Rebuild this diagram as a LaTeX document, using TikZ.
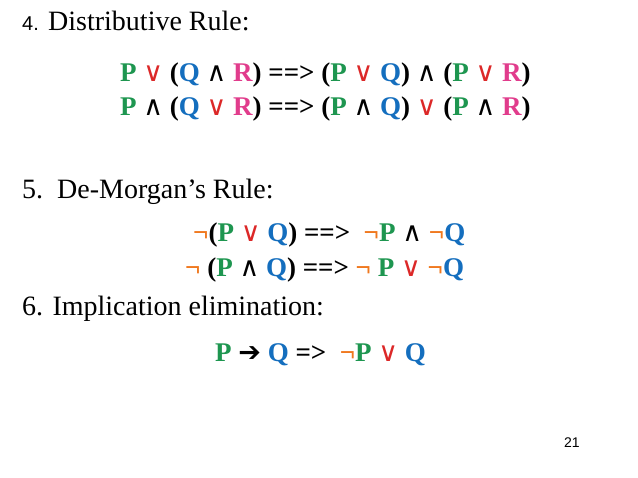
\documentclass[tikz,border=0pt]{standalone}
\usepackage{fontspec}
\setmainfont{Liberation Serif}
\newfontfamily\symf{DejaVu Sans}
\newfontfamily\arialf{Liberation Sans}
\definecolor{pg}{RGB}{30,150,80}
\definecolor{qb}{RGB}{20,110,190}
\definecolor{rm}{RGB}{225,60,140}
\definecolor{or}{RGB}{220,40,40}
\definecolor{ng}{RGB}{240,120,30}
\newcommand{\Pp}{\textcolor{pg}{P}}
\newcommand{\Qq}{\textcolor{qb}{Q}}
\newcommand{\Rr}{\textcolor{rm}{R}}
\newcommand{\OR}{\textcolor{or}{\symf\mdseries ∨}}
\newcommand{\AND}{{\symf\mdseries ∧}}
\newcommand{\NOT}{\textcolor{ng}{¬}}
\begin{document}
\begin{tikzpicture}[x=1pt,y=1pt,
  head/.style={anchor=base west,inner sep=0,font=\fontsize{28}{32}\selectfont},
  formula/.style={anchor=base west,inner sep=0,font=\fontsize{27}{32}\selectfont\bfseries}]
\useasboundingbox[fill=white] (0,0) rectangle (638,-478);
\node[head] (h1) at (22,-31) {{\arialf\fontsize{20}{24}\selectfont 4.} Distributive Rule:};
\node[formula] (f1) at (120,-82) {\Pp\ \OR\ (\Qq\ \AND\ \Rr) ==> (\Pp\ \OR\ \Qq) \AND\ (\Pp\ \OR\ \Rr)};
\node[formula] (f2) at (120,-116) {\Pp\ \AND\ (\Qq\ \OR\ \Rr) ==> (\Pp\ \AND\ \Qq) \OR\ (\Pp\ \AND\ \Rr)};
\node[head] (h2) at (22,-199) {5.\ \ De-Morgan’s Rule:};
\node[formula] (f3) at (193,-242) {\NOT(\Pp\ \OR\ \Qq) ==>\ \ \NOT\Pp\ \AND\ \NOT\Qq};
\node[formula] (f4) at (185,-277) {\NOT\ (\Pp\ \AND\ \Qq) ==> \NOT\ \Pp\ \OR\ \NOT\Qq};
\node[head] (h3) at (22,-316) {6. Implication elimination:};
\node[formula] (f5) at (215,-362) {\Pp\ {\symf ➔} \Qq\ =>\ \ \NOT\Pp\ \OR\ \Qq};
\node[anchor=base west,inner sep=0,font=\arialf\fontsize{14}{16}\selectfont] (pn) at (564,-448) {21};
\end{tikzpicture}
\end{document}
